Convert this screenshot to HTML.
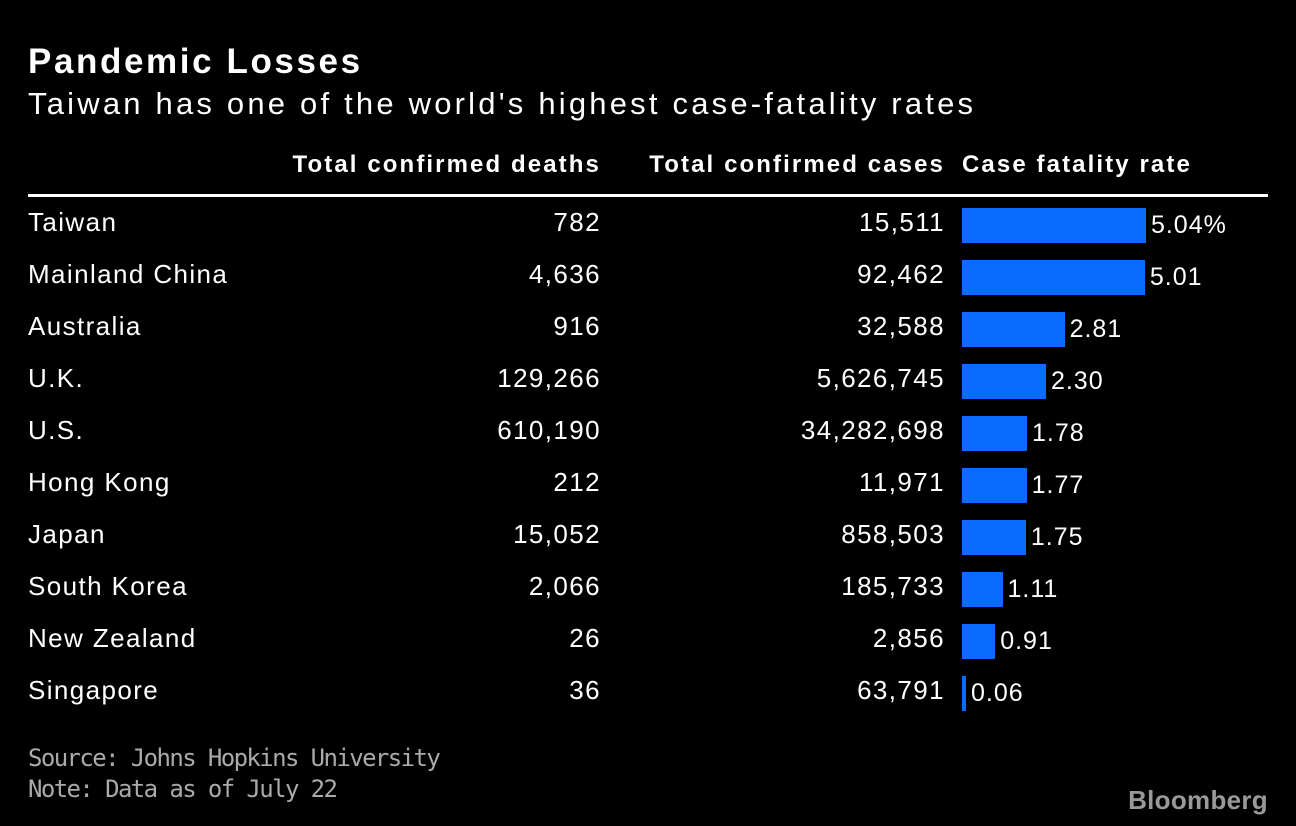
<!DOCTYPE html>
<html><head><meta charset="utf-8"><style>
body{margin:0;background:#000;width:1296px;height:826px;overflow:hidden;font-family:"Liberation Sans",sans-serif;color:#fff;position:relative}
.a{position:absolute;white-space:nowrap}
</style></head><body>
<div class="a" style="left:28px;top:42px;font-size:35px;font-weight:bold;letter-spacing:2.6px">Pandemic Losses</div>
<div class="a" style="left:28px;top:86px;font-size:31px;letter-spacing:3.2px">Taiwan has one of the world's highest case-fatality rates</div>
<div class="a" style="right:695px;top:151px;font-size:24px;font-weight:bold;letter-spacing:2.1px">Total confirmed deaths</div>
<div class="a" style="right:351px;top:151px;font-size:24px;font-weight:bold;letter-spacing:2.1px">Total confirmed cases</div>
<div class="a" style="left:962px;top:151px;font-size:24px;font-weight:bold;letter-spacing:2.1px">Case fatality rate</div>
<div class="a" style="left:28px;top:194px;width:1240px;height:3px;background:#fff"></div>
<div id="rows"></div>
<div class="a" style="left:28px;top:743px;font-size:24px;font-family:'DejaVu Sans Mono','Liberation Mono',monospace;color:#aaa;line-height:31px;letter-spacing:-1.6px">Source: Johns Hopkins University<br>Note: Data as of July 22</div>
<div class="a" style="right:28px;top:785px;font-size:26px;font-weight:bold;color:#999;letter-spacing:0.3px">Bloomberg</div>
<script>
const countries=["Taiwan","Mainland China","Australia","U.K.","U.S.","Hong Kong","Japan","South Korea","New Zealand","Singapore"];
const deaths=["782","4,636","916","129,266","610,190","212","15,052","2,066","26","36"];
const cases=["15,511","92,462","32,588","5,626,745","34,282,698","11,971","858,503","185,733","2,856","63,791"];
const cfr=[5.04,5.01,2.81,2.30,1.78,1.77,1.75,1.11,0.91,0.06];
const cfrLabels=["5.04%","5.01","2.81","2.30","1.78","1.77","1.75","1.11","0.91","0.06"];
const x0=962,pxPer=36.5,top0=208,step=52;
const xs=v=>v*pxPer;
const root=document.getElementById('rows');
countries.forEach((c,i)=>{
  const y=top0+i*step;
  const n=document.createElement('div');n.className='a';
  
  
  n.style.cssText=`left:28px;top:${y-1}px;font-size:26px;letter-spacing:1.4px`;n.textContent=c;root.appendChild(n);
  const d=document.createElement('div');d.className='a';
  
  
  d.style.cssText=`right:695px;top:${y-1}px;font-size:26px;letter-spacing:1.4px`;d.textContent=deaths[i];root.appendChild(d);
  const k=document.createElement('div');k.className='a';
  
  
  k.style.cssText=`right:351px;top:${y-1}px;font-size:26px;letter-spacing:1.4px`;k.textContent=cases[i];root.appendChild(k);
  const w=Math.max(4,xs(cfr[i]));
  const b=document.createElement('div');b.className='a';
  
  
  b.style.cssText=`left:${x0}px;top:${y}px;width:${w}px;height:35px;background:#0a6bff`;root.appendChild(b);
  const l=document.createElement('div');l.className='a';
  
  
  l.style.cssText=`left:${x0+w+5}px;top:${y+3}px;font-size:25px;letter-spacing:1px`;l.textContent=cfrLabels[i];root.appendChild(l);
});
</script>
</body></html>
